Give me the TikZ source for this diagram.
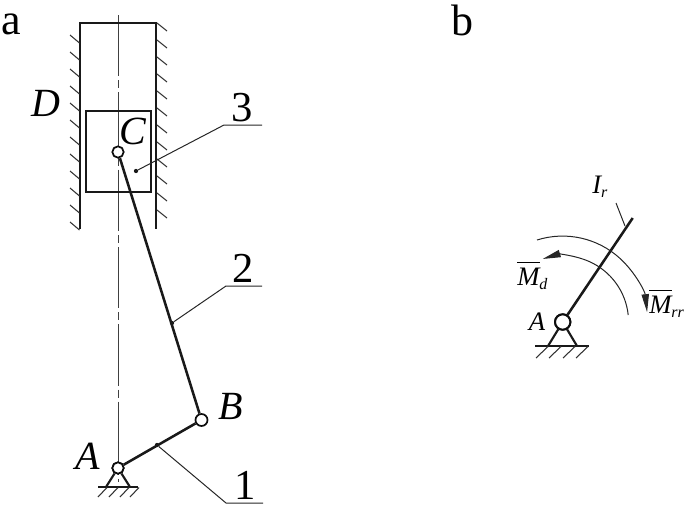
\documentclass[tikz,border=0pt]{standalone}
\usepackage{fontspec}
\setmainfont{Liberation Serif}
\usetikzlibrary{arrows.meta}
\newcommand{\fs}[1]{\fontsize{#1}{#1}\selectfont}
\newcommand{\barM}[2]{\fs{20}\itshape\rlap{\rule[16.5pt]{#2}{0.7pt}}M\raisebox{-3.5pt}{\fs{12}#1}}
\tikzset{
  x=0.75pt,y=-0.75pt,
  wall/.style={line width=1.8pt,black!90},
  linkbar/.style={line width=1.9pt,black!90},
  thin line/.style={line width=0.75pt,black!85},
  hatch/.style={line width=0.8pt,black!80},
  axisline/.style={line width=0.55pt,black!75,dash pattern=on 46pt off 3pt on 6pt off 3pt},
  joint/.style={circle,draw=black!95,line width=1.3pt,fill=white,inner sep=0pt},
  dotmark/.style={circle,fill=black!90,inner sep=0pt,minimum size=3.2pt},
  bigitalic/.style={inner sep=0pt,font=\fs{30}\itshape},
  bignum/.style={inner sep=0pt,font=\fs{32}},
  letter/.style={inner sep=0pt,font=\fs{33}},
  longtip/.style={-{Triangle[length=13.5pt,width=5.5pt]}}
}
\begin{document}
\begin{tikzpicture}
\useasboundingbox (0,0) rectangle (685,504);
% centre line
\coordinate (axT) at (118,15);
\coordinate (axB) at (118,482);
\draw[axisline] (axT) -- (axB);
% guide walls
\coordinate (wl0) at (80,229);
\coordinate (wl1) at (80,23);
\coordinate (wr1) at (156,23);
\coordinate (wr0) at (156,229);
\draw[wall,line join=miter] (wl0) -- (wl1) -- (wr1) -- (wr0);
\foreach \y in {35,52,...,222} \draw[hatch] (70,\y) -- (79.5,\y+8);
\foreach \y in {23,40,...,210} \draw[hatch] (157,\y) -- (167,\y+8);
% slider
\node[draw=black!90,line width=1.6pt,minimum width=48.5pt,minimum height=60.5pt,inner sep=0pt] (slider) at (118.5,151.5) {};
% joints positions
\node[joint,minimum size=8.5pt] (C) at (118,152) {};
\node[joint,minimum size=9pt] (B) at (201.5,420) {};
\node[joint,minimum size=8.5pt] (A) at (118,468) {};
% links
\draw[linkbar] (C) -- (B);
\draw[linkbar] (A) -- (B);
% support a
\coordinate (af1) at (106,487);
\coordinate (af2) at (130,487);
\draw[line width=1.6pt,black!90] (A) -- (af1);
\draw[line width=1.6pt,black!90] (A) -- (af2);
\coordinate (ag1) at (98,487);
\coordinate (ag2) at (138,487);
\draw[line width=1.5pt,black!90] (ag1) -- (ag2);
\foreach \x in {107,118,129,139} \draw[hatch] (\x,487.5) -- (\x-9,497);
\node[joint,minimum size=8.5pt] at (A) {};
% leaders
\node[dotmark] (d3) at (136,171) {};
\coordinate (k3) at (224,125);
\coordinate (e3) at (262,125);
\draw[thin line] (d3) -- (k3) -- (e3);
\node[dotmark] (d2) at (172,323) {};
\coordinate (k2) at (226,286);
\coordinate (e2) at (262,286);
\draw[thin line] (d2) -- (k2) -- (e2);
\node[dotmark] (d1) at (157,445) {};
\coordinate (k1) at (226,503);
\coordinate (e1) at (263,503);
\draw[thin line] (d1) -- (k1) -- (e1);
% labels a
\node[letter] (la) at (11,24) {a};
\node[bigitalic] (lD) at (46,103) {D};
\node[bigitalic] (lC) at (133,131) {C};
\node[bigitalic] (lB) at (231,406) {B};
\node[bigitalic] (lA) at (88,456) {A};
\node[bignum] (n3) at (242,108) {3};
\node[bignum] (n2) at (243,268) {2};
\node[bignum] (n1) at (245,485) {1};
% part b
\node[letter] (lb) at (462,20) {b};
\node[joint,minimum size=11.5pt,line width=1.5pt] (Ab) at (562.7,322) {};
\coordinate (Lend) at (632.7,218);
\draw[linkbar] (Ab) -- (Lend);
\coordinate (i1) at (616,203);
\coordinate (i2) at (625,226);
\draw[thin line] (i1) -- (i2);
\coordinate (bf1) at (548,346);
\coordinate (bf2) at (577,346);
\draw[line width=1.6pt,black!90] (Ab) -- (bf1);
\draw[line width=1.6pt,black!90] (Ab) -- (bf2);
\coordinate (bg1) at (535,346);
\coordinate (bg2) at (589,346);
\draw[line width=1.5pt,black!90] (bg1) -- (bg2);
\foreach \x in {548,561,575,588} \draw[hatch] (\x,346.5) -- (\x-12,358);
\node[joint,minimum size=11.5pt,line width=1.5pt] at (Ab) {};
% moment arcs
\draw[thin line,longtip] (537,240) arc[start angle=-107.5,end angle=-6,radius=85];
\draw[thin line,longtip] (628.2,315) arc[start angle=-6,end angle=-107.5,radius=66];
% labels b
\node[inner sep=0pt,anchor=base west,font=\fs{20}\itshape] (lI) at (592,193) {I\raisebox{-3.5pt}{\fs{12}r}};
\node[inner sep=0pt,anchor=base west] (lM) at (517,285) {\barM{d}{17pt}};
\node[inner sep=0pt,anchor=base west] (lR) at (649,313) {\barM{rr}{17pt}};
\node[inner sep=0pt,anchor=base,font=\fs{20}\itshape] (lAb) at (537,330) {A};
\end{tikzpicture}
\end{document}
